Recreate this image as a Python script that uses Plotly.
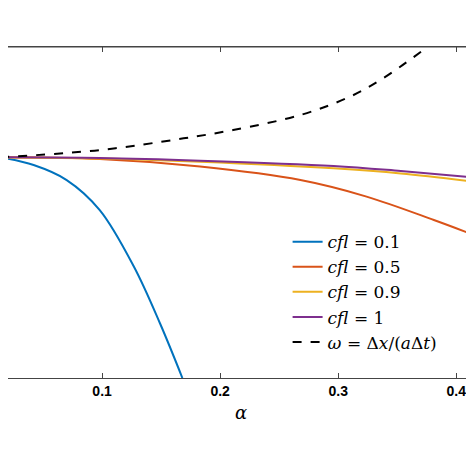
import plotly.graph_objects as go

a_w = [0.0136, 0.098, 0.169, 0.211, 0.268, 0.310, 0.338, 0.372]
y_w = [1.0, 1.033, 1.086, 1.124, 1.192, 1.275, 1.358, 1.486]
a_01 = [0.0136, 0.042, 0.070, 0.098, 0.127, 0.149, 0.168]
y_01 = [1.0, 0.965, 0.897, 0.761, 0.504, 0.248, 0.0]
a_05 = [0.0136, 0.098, 0.183, 0.268, 0.324, 0.381, 0.415]
y_05 = [1.0, 0.992, 0.958, 0.897, 0.822, 0.716, 0.648]
a_09 = [0.0136, 0.098, 0.183, 0.296, 0.353, 0.415]
y_09 = [1.0, 0.995, 0.980, 0.950, 0.927, 0.890]
a_1 = [0.0136, 0.098, 0.183, 0.296, 0.353, 0.415]
y_1 = [1.0, 0.997, 0.985, 0.961, 0.938, 0.909]
xticks = [0.1, 0.2, 0.3, 0.4]

fig = go.Figure()
ls = dict(shape="spline", width=2)
fig.add_trace(go.Scatter(x=a_01, y=y_01, mode="lines", name="<i>cfl</i> = 0.1", line=dict(color="#0072BD", **ls)))
fig.add_trace(go.Scatter(x=a_05, y=y_05, mode="lines", name="<i>cfl</i> = 0.5", line=dict(color="#D95319", **ls)))
fig.add_trace(go.Scatter(x=a_09, y=y_09, mode="lines", name="<i>cfl</i> = 0.9", line=dict(color="#EDB120", **ls)))
fig.add_trace(go.Scatter(x=a_1, y=y_1, mode="lines", name="<i>cfl</i> = 1", line=dict(color="#7E2F8E", **ls)))
fig.add_trace(go.Scatter(x=a_w, y=y_w, mode="lines", name="<i>ω</i> = Δ<i>x</i>/(<i>a</i>Δ<i>t</i>)",
                         line=dict(color="black", dash="dash", **ls)))

fig.update_layout(
    width=466, height=466, margin=dict(l=0, r=0, t=39, b=96),
    plot_bgcolor="white", paper_bgcolor="white",
    font=dict(family="DejaVu Serif", color="black"),
    showlegend=True,
    legend=dict(x=0.60, y=0.465, xanchor="left", yanchor="top", bgcolor="rgba(255,255,255,0)",
                font=dict(size=17), tracegroupgap=0),
    xaxis=dict(range=[0.0203, 0.415], tickvals=xticks, ticktext=["<b>0.1</b>", "<b>0.2</b>", "<b>0.3</b>", "<b>0.4</b>"],
               ticks="inside", ticklen=5, mirror="ticks", showline=True, linecolor="#444",
               showgrid=False, zeroline=False, tickfont=dict(family="Liberation Sans", size=14),
               title=dict(text="<i>α</i>", font=dict(size=18), standoff=8)),
    yaxis=dict(range=[0, 1.5], showticklabels=False, ticks="", showgrid=False, zeroline=False,
               showline=False),
)
fig.add_shape(type="line", xref="paper", yref="paper", x0=0, x1=1, y0=1, y1=1, line=dict(color="#444", width=1))
fig.write_html("out.html")
